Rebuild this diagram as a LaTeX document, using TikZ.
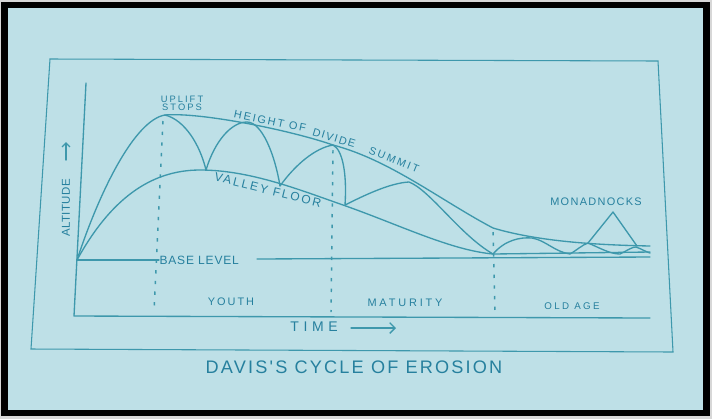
\documentclass[tikz,border=0pt]{standalone}
\usepackage{fontspec}
\usetikzlibrary{arrows.meta}
\newfontfamily\hand{Liberation Sans}
\newcommand\handsize[2]{\hand\fontsize{#1}{#1}\selectfont\addfontfeature{LetterSpace=#2}}
\definecolor{paper}{RGB}{190,224,231}
\definecolor{edge}{RGB}{215,215,215}
\definecolor{ink}{RGB}{62,152,172}
\definecolor{pencil}{RGB}{38,128,158}
\tikzset{every picture/.style={line width=0.75pt}}
\tikzset{
	pen/.style={draw=ink, line width=1pt, line join=round, line cap=round},
	thinpen/.style={draw=ink, line width=0.8pt},
	stage/.style={draw=ink, line width=1.1pt, dash pattern=on 2.5pt off 5.5pt},
	pentext/.style={text=pencil, inner sep=0pt, font=\handsize{8.2}{18}}}

\begin{document}
\begin{tikzpicture}[x=0.75pt,y=0.75pt,yscale=-1,xscale=1]
	\useasboundingbox (0,0) rectangle (712,419);

	% photo edge and paper
	\fill[edge] (0,0) rectangle (712,419);
	\fill[black] (1,2) rectangle (710,416);
	\fill[paper] (8,8) rectangle (703,410);

	% outer frame
	\draw[thinpen] (50,59) -- (658,61) -- (673,352) -- (31,349) -- cycle;
	% axes
	\draw[pen] (86,83) -- (74,316) -- (650,318);

	\coordinate (O) at (77,260);
	\coordinate (uplift) at (165,115);

	% stage dividers
	\draw[stage] (163,121) -- (154,312);
	\draw[stage] (333,150) -- (331,312);
	\draw[stage] (493,232) -- (495,312);

	% base level
	\node[pentext, font=\handsize{9}{7}, anchor=west] (baselevel) at (159,260) {BASE LEVEL};
	\draw[pen] (O) -- (baselevel.west);
	\draw[pen] (257,259) -- (650,257);

	% height of divide summit
	\draw[pen] (O) .. controls (100,190) and (135,120) .. (uplift)
		.. controls (200,112) and (290,130) .. (333,145)
		.. controls (390,160) and (440,200) .. (493,228)
		.. controls (540,242) and (600,245) .. (650,246);
	% valley floor
	\draw[pen] (O) .. controls (110,200) and (150,170) .. (200,170)
		.. controls (250,170) and (300,190) .. (343,205)
		.. controls (400,225) and (450,250) .. (493,254) -- (650,252);
	% valley profiles
	\draw[pen] (uplift) .. controls (185,120) and (200,145) .. (206,170)
		.. controls (215,140) and (232,122) .. (247,122)
		.. controls (262,122) and (275,155) .. (280,186)
		.. controls (295,165) and (315,148) .. (333,145)
		.. controls (343,150) and (347,175) .. (345,205)
		.. controls (365,195) and (390,183) .. (409,182)
		.. controls (430,190) and (460,235) .. (493,254)
		.. controls (505,240) and (520,237) .. (532,238)
		.. controls (545,240) and (555,252) .. (570,254)
		.. controls (577,250) and (582,245) .. (588,243)
		.. controls (600,248) and (610,254) .. (620,254)
		.. controls (628,250) and (632,247) .. (636,247)
		.. controls (642,249) and (646,252) .. (650,253);
	% monadnock
	\draw[pen] (588,243) -- (613,212) -- (637,246);

	% Text Nodes
	\node[pentext, font=\handsize{7}{22}, align=center] (uplifttext) at (182,103) {UPLIFT\\[-1pt]STOPS};
	\node[pentext, rotate=-12] (heightof) at (270,121) {HEIGHT OF};
	\node[pentext, font=\handsize{8.2}{14}, rotate=-17] (divide) at (334,138) {DIVIDE};
	\node[pentext, font=\handsize{8}{20}, rotate=-22] (summit) at (394,160) {SUMMIT};
	\node[pentext, font=\handsize{9}{17}, rotate=-14] (valleyfloor) at (268,190) {VALLEY FLOOR};
	\node[pentext, font=\handsize{8.2}{12}] (monadnocks) at (596,202) {MONADNOCKS};
	\node[pentext, font=\handsize{8.6}{4}, rotate=90] (altitude) at (66,208) {ALTITUDE};
	\draw[pen, -{Straight Barb[length=3pt]}] (66,160) -- (66,142);

	\node[pentext] (youth) at (231,302) {YOUTH};
	\node[pentext, font=\handsize{8.2}{26}] (maturity) at (405,303) {MATURITY};
	\node[pentext, font=\handsize{7.3}{25}] (oldage) at (572,306) {OLD AGE};

	\node[pentext, font=\handsize{10.5}{33}] (time) at (314,327) {TIME};
	\draw[pen, -{Straight Barb[length=4pt]}] (351,328) -- (396,328);

	\node[pentext, font=\handsize{13.6}{12}] (title) at (354,367) {DAVIS'S CYCLE OF EROSION};
\end{tikzpicture}
\end{document}
